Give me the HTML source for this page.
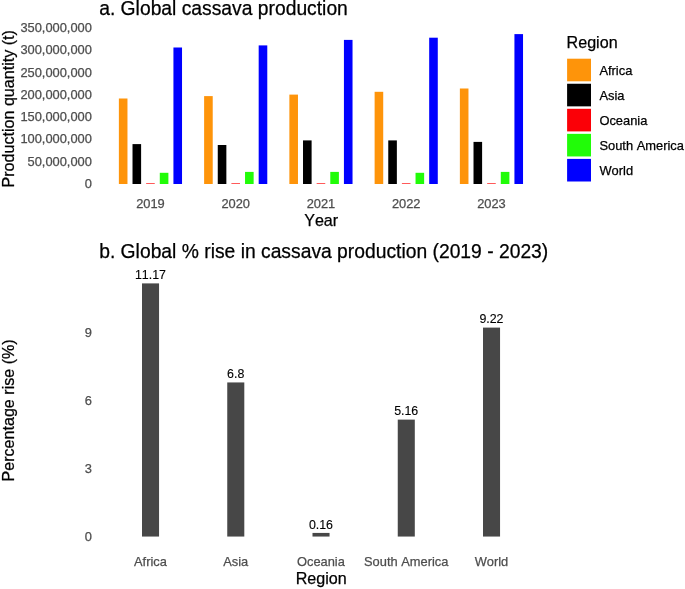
<!DOCTYPE html>
<html><head><meta charset="utf-8"><title>Global cassava production</title>
<style>
html,body{margin:0;padding:0;background:#fff;}
svg{display:block;font-kerning:none;font-family:"Liberation Sans",sans-serif;}
text{paint-order:stroke;stroke-width:0.25px;stroke-linejoin:round}
.t{font-size:19.3px;fill:#000;stroke:#000}
.at{font-size:16.1px;fill:#000;stroke:#000}
.ax{font-size:12.87px;fill:#4d4d4d;stroke:#4d4d4d}
.lg{font-size:12.9px;fill:#000;stroke:#000}
.bl{font-size:12.4px;fill:#000;stroke:#000;stroke-width:0.12px}
</style></head><body>
<svg width="685" height="589" viewBox="0 0 685 589">
<rect width="685" height="589" fill="#fff"/>
<text class="t" x="99.2" y="15">a. Global cassava production</text>
<text class="at" text-anchor="middle" transform="translate(13.6,108.8) rotate(-90)">Production quantity (t)</text>
<text class="ax" text-anchor="end" x="91.9" y="188">0</text>
<text class="ax" text-anchor="end" x="91.9" y="166">50,000,000</text>
<text class="ax" text-anchor="end" x="91.9" y="143">100,000,000</text>
<text class="ax" text-anchor="end" x="91.9" y="121">150,000,000</text>
<text class="ax" text-anchor="end" x="91.9" y="99">200,000,000</text>
<text class="ax" text-anchor="end" x="91.9" y="77">250,000,000</text>
<text class="ax" text-anchor="end" x="91.9" y="54">300,000,000</text>
<text class="ax" text-anchor="end" x="91.9" y="32">350,000,000</text>
<rect x="118.87" y="98.5" width="8.6" height="85.50" fill="#FE940A"/>
<rect x="132.51" y="144.1" width="8.6" height="39.90" fill="#000000"/>
<rect x="146.15" y="183" width="8.6" height="1" fill="#FF5A5A"/>
<rect x="159.79" y="172.8" width="8.6" height="11.20" fill="#21FC08"/>
<rect x="173.43" y="47.5" width="8.6" height="136.50" fill="#0000FF"/>
<text class="ax" text-anchor="middle" x="150.45" y="208">2019</text>
<rect x="204.12" y="96.1" width="8.6" height="87.90" fill="#FE940A"/>
<rect x="217.76" y="145.0" width="8.6" height="39.00" fill="#000000"/>
<rect x="231.40" y="183" width="8.6" height="1" fill="#FF5A5A"/>
<rect x="245.04" y="171.9" width="8.6" height="12.10" fill="#21FC08"/>
<rect x="258.68" y="45.4" width="8.6" height="138.60" fill="#0000FF"/>
<text class="ax" text-anchor="middle" x="235.70" y="208">2020</text>
<rect x="289.37" y="94.6" width="8.6" height="89.40" fill="#FE940A"/>
<rect x="303.01" y="140.4" width="8.6" height="43.60" fill="#000000"/>
<rect x="316.65" y="183" width="8.6" height="1" fill="#FF5A5A"/>
<rect x="330.29" y="171.9" width="8.6" height="12.10" fill="#21FC08"/>
<rect x="343.93" y="39.9" width="8.6" height="144.10" fill="#0000FF"/>
<text class="ax" text-anchor="middle" x="320.95" y="208">2021</text>
<rect x="374.62" y="91.8" width="8.6" height="92.20" fill="#FE940A"/>
<rect x="388.26" y="140.4" width="8.6" height="43.60" fill="#000000"/>
<rect x="401.90" y="183" width="8.6" height="1" fill="#FF5A5A"/>
<rect x="415.54" y="172.8" width="8.6" height="11.20" fill="#21FC08"/>
<rect x="429.18" y="37.7" width="8.6" height="146.30" fill="#0000FF"/>
<text class="ax" text-anchor="middle" x="406.20" y="208">2022</text>
<rect x="459.87" y="88.5" width="8.6" height="95.50" fill="#FE940A"/>
<rect x="473.51" y="141.9" width="8.6" height="42.10" fill="#000000"/>
<rect x="487.15" y="183" width="8.6" height="1" fill="#FF5A5A"/>
<rect x="500.79" y="171.9" width="8.6" height="12.10" fill="#21FC08"/>
<rect x="514.43" y="34.1" width="8.6" height="149.90" fill="#0000FF"/>
<text class="ax" text-anchor="middle" x="491.45" y="208">2023</text>
<text class="at" text-anchor="middle" x="321.2" y="226">Year</text>
<text class="at" x="566.6" y="48">Region</text>
<rect x="567.1" y="58.70" width="23.9" height="22.6" fill="#FE940A"/>
<text class="lg" x="599.4" y="74.60">Africa</text>
<rect x="567.1" y="83.75" width="23.9" height="22.6" fill="#000000"/>
<text class="lg" x="599.4" y="99.65">Asia</text>
<rect x="567.1" y="108.80" width="23.9" height="22.6" fill="#FB0007"/>
<text class="lg" x="599.4" y="124.70">Oceania</text>
<rect x="567.1" y="133.85" width="23.9" height="22.6" fill="#21FC08"/>
<text class="lg" x="599.4" y="149.75">South America</text>
<rect x="567.1" y="158.90" width="23.9" height="22.6" fill="#0000FF"/>
<text class="lg" x="599.4" y="174.80">World</text>
<text class="t" x="99.2" y="258">b. Global % rise in cassava production (2019 - 2023)</text>
<text class="at" text-anchor="middle" transform="translate(13.6,410.4) rotate(-90)">Percentage rise (%)</text>
<text class="ax" text-anchor="end" x="91.9" y="541">0</text>
<text class="ax" text-anchor="end" x="91.9" y="473">3</text>
<text class="ax" text-anchor="end" x="91.9" y="405">6</text>
<text class="ax" text-anchor="end" x="91.9" y="337">9</text>
<rect x="142.00" y="283.40" width="17.05" height="253.15" fill="#474747"/>
<text class="bl" text-anchor="middle" x="150.45" y="279">11.17</text>
<text class="ax" text-anchor="middle" x="150.45" y="566">Africa</text>
<rect x="227.25" y="382.44" width="17.05" height="154.11" fill="#474747"/>
<text class="bl" text-anchor="middle" x="235.70" y="378">6.8</text>
<text class="ax" text-anchor="middle" x="235.70" y="566">Asia</text>
<rect x="312.50" y="532.92" width="17.05" height="3.63" fill="#474747"/>
<text class="bl" text-anchor="middle" x="320.95" y="529">0.16</text>
<text class="ax" text-anchor="middle" x="320.95" y="566">Oceania</text>
<rect x="397.75" y="419.61" width="17.05" height="116.94" fill="#474747"/>
<text class="bl" text-anchor="middle" x="406.20" y="415">5.16</text>
<text class="ax" text-anchor="middle" x="406.20" y="566">South America</text>
<rect x="483.00" y="327.60" width="17.05" height="208.95" fill="#474747"/>
<text class="bl" text-anchor="middle" x="491.45" y="323">9.22</text>
<text class="ax" text-anchor="middle" x="491.45" y="566">World</text>
<text class="at" text-anchor="middle" x="321.2" y="584">Region</text>
</svg></body></html>
